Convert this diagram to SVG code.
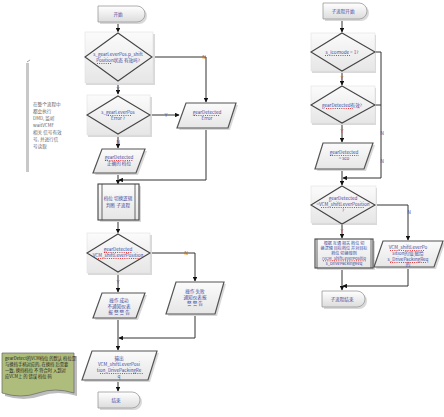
<svg xmlns="http://www.w3.org/2000/svg" width="444" height="417" viewBox="0 0 444 417">
<defs>
<linearGradient id="gT" x1="0" y1="0" x2="0" y2="1"><stop offset="0" stop-color="#ffffff"/><stop offset="1" stop-color="#dcdcdc"/></linearGradient>
<linearGradient id="gB" x1="0" y1="0" x2="0" y2="1"><stop offset="0" stop-color="#fbfbfb"/><stop offset="1" stop-color="#e6e6e6"/></linearGradient>
<marker id="ar" viewBox="0 0 8 8" refX="7" refY="4" markerWidth="4.5" markerHeight="4.5" orient="auto"><path d="M0,0 L8,4 L0,8 z" fill="#111"/></marker>
</defs>
<style>
.bg{fill:url(#gB);stroke:#e2e2e2;stroke-width:0.6}
.sh{fill:#d9d9d9}
.dm{fill:none;stroke:#444;stroke-width:1.1}
.pg{fill:url(#gB);stroke:#555;stroke-width:1.2}
.tm{fill:url(#gT);stroke:#9a9a9a;stroke-width:0.8}
.pr{fill:url(#gB);stroke:#444;stroke-width:1.1}
.ln{fill:none;stroke:#333;stroke-width:1}
.t{font-family:"Noto Sans CJK SC","Liberation Sans",sans-serif;font-size:4.6px;fill:#3c4aa0;text-anchor:middle}
.ts{font-size:4.1px}
.lb{font-family:"Liberation Sans",sans-serif;font-size:4.5px;text-anchor:middle}
.sq{stroke:#e01010;stroke-width:0.9;stroke-dasharray:0.9 1.3;fill:none}
.an{font-family:"Noto Sans CJK SC","Liberation Sans",sans-serif;font-size:4.6px;fill:#666}
</style>

<g id="connectors">
<path class="ln" d="M118,22 V32" marker-end="url(#ar)"/>
<path class="ln" d="M152,57 H206 V102" marker-end="url(#ar)"/>
<path class="ln" d="M118,81 V94" marker-end="url(#ar)"/>
<path class="ln" d="M150,115 H179" marker-end="url(#ar)"/>
<path class="ln" d="M118,134 V148" marker-end="url(#ar)"/>
<path class="ln" d="M118,173 V184" marker-end="url(#ar)"/>
<path class="ln" d="M206,128 V180 H119" marker-end="url(#ar)"/>
<path class="ln" d="M118,220 V233" marker-end="url(#ar)"/>
<path class="ln" d="M150,253 H195 V281" marker-end="url(#ar)"/>
<path class="ln" d="M118,272 V292" marker-end="url(#ar)"/>
<path class="ln" d="M118,318 V350" marker-end="url(#ar)"/>
<path class="ln" d="M195,314 V338 H119" marker-end="url(#ar)"/>
<path class="ln" d="M118,380 V391" marker-end="url(#ar)"/>

<path class="ln" d="M342,20 V32" marker-end="url(#ar)"/>
<path class="ln" d="M342,71 V85" marker-end="url(#ar)"/>
<path class="ln" d="M375,52 H381 V178 H343" marker-end="url(#ar)"/>
<path class="ln" d="M375,105 H381"/>
<path class="ln" d="M342,123 V142" marker-end="url(#ar)"/>
<path class="ln" d="M342,169 V185" marker-end="url(#ar)"/>
<path class="ln" d="M375,205 H408 V240" marker-end="url(#ar)"/>
<path class="ln" d="M342,224 V238" marker-end="url(#ar)"/>
<path class="ln" d="M342,268 V290" marker-end="url(#ar)"/>
<path class="ln" d="M408,267 V286 H343" marker-end="url(#ar)"/>

<text class="lb" x="204" y="59" fill="#d04020">N</text>
<text class="lb" x="118" y="91" fill="#3c4aa0">Y</text>
<text class="lb" x="166" y="117" fill="#3c4aa0">Y</text>
<text class="lb" x="118" y="144" fill="#3c4aa0">N</text>
<text class="lb" x="186" y="255" fill="#d04020">N</text>
<text class="lb" x="118" y="284" fill="#3c4aa0">Y</text>
<text class="lb" x="342" y="80" fill="#d04020">Y</text>
<text class="lb" x="342" y="133" fill="#d04020">Y</text>
<text class="lb" x="382" y="135" fill="#3c4aa0">N</text>
<text class="lb" x="382" y="163" fill="#3c4aa0">N</text>
<text class="lb" x="342" y="233" fill="#d04020">Y</text>
<text class="lb" x="409" y="214" fill="#3c4aa0">N</text>
</g>

<g id="annotation">
<rect x="26" y="63" width="3" height="109" fill="#c8c8c8"/>
<path d="M27,62 l3,-2" stroke="#888" stroke-width="0.8"/>
<text class="an" x="33" y="106">在整个流程中</text>
<text class="an" x="33" y="113">都会执行</text>
<text class="an" x="33" y="120">DMD, 监听</text>
<text class="an" x="33" y="127">waitVCMF</text>
<text class="an" x="33" y="134">相关 信号有效</text>
<text class="an" x="33" y="141">号, 并进行信</text>
<text class="an" x="33" y="148">号读取</text>
</g>

<g id="start">
<path d="M100,8 H139 A8,8 0 0 1 139,24 H100 z" class="sh"/>
<path d="M98,6 H137 A8,8 0 0 1 137,22 H98 z" class="tm"/>
<text class="t" x="118" y="16">开始</text>
</g>

<g id="d1">
<rect x="86" y="34" width="69" height="51" class="sh"/>
<rect x="85" y="32" width="68" height="51" class="bg"/>
<polygon class="dm" points="118,33 152,57 118,81 85,57"/>
<text class="t" x="118" y="56">s_gearLeverPos.p_shift</text>
<text class="t" x="118" y="62">Position状态 有效吗?</text>
<path class="sq" d="M97,63.5 H112"/>
</g>

<g id="d2">
<rect x="88" y="97" width="64" height="40" class="sh"/>
<rect x="87" y="95" width="63" height="40" class="bg"/>
<polygon class="dm" points="118,96 150,115 118,134 87,115"/>
<text class="t" x="118" y="114">s_gearLeverPos</text>
<text class="t" x="118" y="120">Error ?</text>
<path class="sq" d="M108,115.5 H131"/>
</g>

<g id="p_err">
<polygon points="188,105 238,105 230,130 179,130" class="sh"/>
<polygon points="186,103 236,103 228,128 177,128" class="pg"/>
<text class="t" x="207" y="114">gearDetected</text>
<text class="t" x="207" y="120">Error</text>
<path class="sq" d="M194,115.5 H220"/>
</g>

<g id="p_ok">
<polygon points="104,151 147,151 138,175 95,175" class="sh"/>
<polygon points="102,149 145,149 136,173 93,173" class="pg"/>
<text class="t" x="119" y="159">gearDetected</text>
<text class="t" x="119" y="165">正确的 档位</text>
<path class="sq" d="M105,160.5 H133"/>
</g>

<g id="proc1">
<rect x="100" y="186" width="41" height="36" class="sh"/>
<rect x="98" y="184" width="41" height="36" class="pr"/>
<path d="M102,184 V220 M135,184 V220" stroke="#444" stroke-width="0.8"/>
<text class="t" x="118" y="200">档位 切换逻辑</text>
<text class="t" x="118" y="207">判断 子流程</text>
</g>

<g id="d3">
<rect x="88" y="235" width="64" height="40" class="sh"/>
<rect x="87" y="233" width="63" height="40" class="bg"/>
<polygon class="dm" points="118,234 150,253 118,272 87,253"/>
<text class="t" x="118" y="251">gearDetected</text>
<text class="t" x="118" y="257">VCM_shiftLeverPosition</text>
<path class="sq" d="M104,252.5 H132 M98,258.5 H140"/>
</g>

<g id="p_succ">
<polygon points="104,295 147,295 138,320 95,320" class="sh"/>
<polygon points="102,293 145,293 136,318 93,318" class="pg"/>
<text class="t" x="119" y="302">操作 成功</text>
<text class="t" x="119" y="308">不通知仪表</text>
<text class="t" x="119" y="314">报 警 警 告</text>
</g>

<g id="p_fail">
<polygon points="178,284 226,284 217,316 168,316" class="sh"/>
<polygon points="176,282 224,282 215,314 166,314" class="pg"/>
<text class="t" x="195" y="293">操作 失败</text>
<text class="t" x="195" y="299">通知仪表报</text>
<text class="t" x="195" y="305">警 警 告</text>
</g>

<g id="p_out">
<polygon points="94,353 159,353 150,382 84,382" class="sh"/>
<polygon points="92,351 157,351 148,380 82,380" class="pg"/>
<text class="t" x="119" y="360">输出</text>
<text class="t" x="119" y="366">VCM_shiftLeverPosi</text>
<text class="t" x="119" y="372">tion_DrivePackingRe</text>
<text class="t" x="119" y="378">q</text>
<path class="sq" d="M100,373.5 H143"/>
</g>

<g id="end">
<path d="M100,394 H134 A8,8 0 0 1 134,410 H100 z" class="sh"/>
<path d="M98,392 H132 A8,8 0 0 1 132,408 H98 z" class="tm"/>
<text class="t" x="116" y="402">结束</text>
</g>

<g id="note">
<path d="M5,356 H77 V396 Q58,390 41,396 T5,396 z" fill="#bdbdbd"/>
<path d="M2,353 H74 V393 Q55,387 38,393 T2,393 z" fill="#aebd7c" stroke="#666" stroke-width="0.7"/>
<text class="an" x="5" y="360" style="fill:#222;font-size:4.3px">gearDetect的VCM档位 的默认 档位是</text>
<text class="an" x="5" y="366" style="fill:#222;font-size:4.3px">与换挡手柄对应的, 在换挡 后需要</text>
<text class="an" x="5" y="372" style="fill:#222;font-size:4.3px">一致, 换挡档位 不 符合时 入到对</text>
<text class="an" x="5" y="378" style="fill:#222;font-size:4.3px">应VCM上 的 错误 档位 码</text>
</g>

<g id="sstart">
<path d="M325,5 H361 A8,8 0 0 1 361,21 H325 z" class="sh"/>
<path d="M323,3 H359 A8,8 0 0 1 359,19 H323 z" class="tm"/>
<text class="t" x="343" y="13">子流程开始</text>
</g>

<g id="dA">
<rect x="312" y="35" width="64" height="38" class="sh"/>
<rect x="311" y="33" width="64" height="38" class="bg"/>
<polygon class="dm" points="342,33 375,52 342,71 311,52"/>
<text class="t" x="342" y="54">s_lcomode   = 1?</text>
<path class="sq" d="M325,55.5 H350"/>
</g>

<g id="dB">
<rect x="312" y="88" width="64" height="37" class="sh"/>
<rect x="311" y="86" width="64" height="37" class="bg"/>
<polygon class="dm" points="342,86 375,105 342,123 311,105"/>
<text class="t" x="342" y="107">gearDetected有效?</text>
<path class="sq" d="M326,108.5 H353"/>
</g>

<g id="pS">
<polygon points="325,145 375,145 366,171 317,171" class="sh"/>
<polygon points="323,143 373,143 364,169 315,169" class="pg"/>
<text class="t" x="344" y="154">gearDetected</text>
<text class="t" x="344" y="160">= sco</text>
<path class="sq" d="M330,155.5 H359"/>
</g>

<g id="dC">
<rect x="312" y="188" width="65" height="37" class="sh"/>
<rect x="311" y="186" width="65" height="37" class="bg"/>
<polygon class="dm" points="342,186 375,205 342,224 311,205"/>
<text class="t" x="343" y="200">gearDetected</text>
<text class="t" x="343" y="206">=VCM_shiftLeverPosition</text>
<text class="t" x="343" y="212">?</text>
<path class="sq" d="M321,207.5 H364"/>
</g>

<g id="procR">
<rect x="317" y="241" width="58" height="29" class="sh"/>
<rect x="315" y="239" width="58" height="29" class="pr"/>
<path d="M317,239 V268 M371,239 V268" stroke="#444" stroke-width="0.8"/>
<text class="t ts" x="344" y="244.5">根据 互通 相关 档位 切</text>
<text class="t ts" x="344" y="249.5">换逻辑 目标档位 并对目标</text>
<text class="t ts" x="344" y="254.5">档位 切换规则</text>
<text class="t ts" x="344" y="259.5">(VCM_shiftLeverPositio</text>
<text class="t ts" x="344" y="264.5">s_DrivePackingReq</text>
<path class="sq" d="M323,260.8 H366"/>
</g>

<g id="pR">
<polygon points="385,243 445,243 436,269 376,269" class="sh"/>
<polygon points="383,241 443,241 434,267 374,267" class="pg"/>
<text class="t" x="408" y="249">VCM_shiftLeverPo</text>
<text class="t" x="408" y="255">sition的值 赋给</text>
<text class="t" x="408" y="261">s_DrivePackingReq</text>
<text class="t" x="408" y="266">的</text>
<path class="sq" d="M390,250.5 H425 M390,262.5 H426"/>
</g>

<g id="send">
<path d="M324,293 H359 A8,8 0 0 1 359,309 H324 z" class="sh"/>
<path d="M322,291 H357 A8,8 0 0 1 357,307 H322 z" class="tm"/>
<text class="t" x="342" y="301">子流程结束</text>
</g>
</svg>
